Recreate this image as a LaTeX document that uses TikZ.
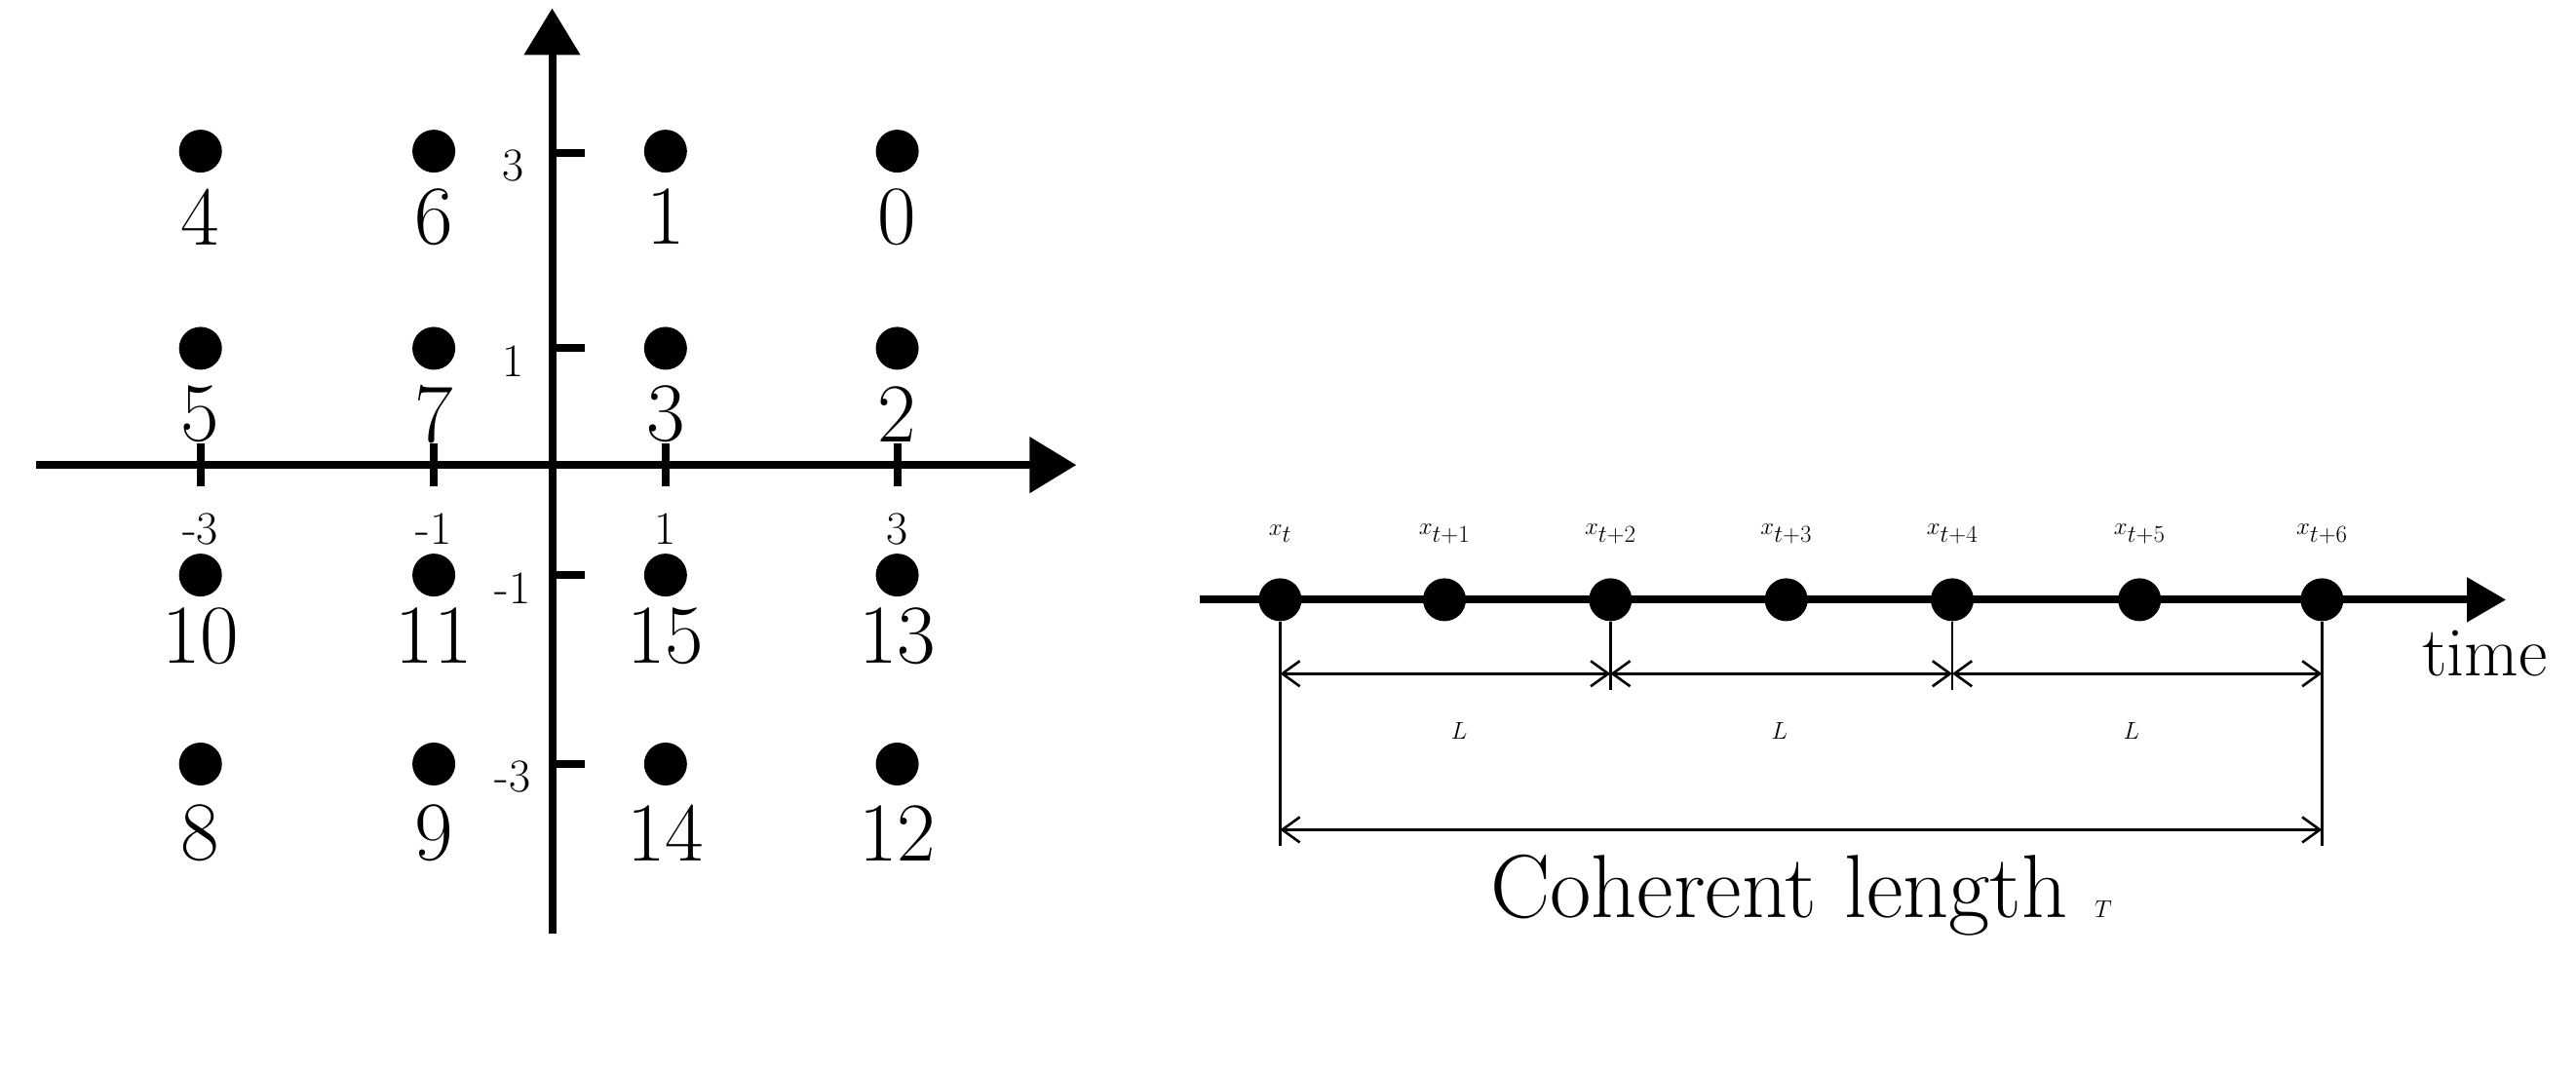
\documentclass[tikz,border=0pt]{standalone}
\usetikzlibrary{arrows.meta}
\begin{document}
\begin{tikzpicture}[x=1.686pt,y=-1.686pt,
 ax/.style={line width=8pt,-{Triangle[length=48pt,width=56pt]}},
 pt/.style={circle,fill=black,inner sep=0pt,minimum size=44pt},
 num/.style={font=\fontsize{86}{86}\selectfont},
 tk/.style={font=\fontsize{48}{48}\selectfont},
 lab/.style={font=\fontsize{82}{82}\selectfont},
 dim/.style={line width=2.6pt,{Straight Barb[length=18pt,width=26pt]}-{Straight Barb[length=18pt,width=26pt]}},
 vl/.style={line width=2.6pt}]
\useasboundingbox (0,0) rectangle (1567.6,651.8);
% left panel
\coordinate (xa) at (22,283); \coordinate (xb) at (655,283);
\coordinate (ya) at (336,568); \coordinate (yb) at (336,5);
\draw[ax] (xa) -- (xb);
\draw[ax] (ya) -- (yb);
\foreach \x/\l in {122/-3,264/-1,405/1,546/3}{
 \draw[line width=8pt] (\x,270) -- (\x,296);
 \node[tk] (xt\x) at (\x,322) {\l};}
\foreach \y/\l in {93/3,212/1,350/-1,465/-3}{
 \draw[line width=8pt] (336,\y) -- (356,\y);
 \node[tk] (yt\y) at (312,\y+8) {\l};}
\foreach \y/\ly/\a/\b/\c/\d in {92/132/4/6/1/0,212/252/5/7/3/2,350/387/10/11/15/13,465/507/8/9/14/12}{
 \node[pt] (p\a) at (122,\y) {}; \node[num] (n\a) at (122,\ly) {\a};
 \node[pt] (p\b) at (264,\y) {}; \node[num] (n\b) at (264,\ly) {\b};
 \node[pt] (p\c) at (405,\y) {}; \node[num] (n\c) at (405,\ly) {\c};
 \node[pt] (p\d) at (546,\y) {}; \node[num] (n\d) at (546,\ly) {\d};}
\node[font=\fontsize{100}{100}\selectfont] (la) at (280,1045) {(\textbf{a})};
\path (0,0) -- (0,0);
\node[font=\fontsize{100}{100}\selectfont] (la2) at (280,602) {};
% right panel
\coordinate (ta) at (730,365); \coordinate (tb) at (1525,365);
\draw[line width=8pt,-{Triangle[length=40pt,width=44pt]}] (ta) -- (tb);
\foreach \x/\s [count=\i] in {779/t,879/t+1,980/t+2,1087/t+3,1188/t+4,1302/t+5,1413/t+6}{
 \node[pt] (d\i) at (\x,365) {};
 \node[lab] (dl\i) at (\x,325) {$x_{\s}$};}
\node[font=\fontsize{72}{72}\selectfont] (time) at (1512,398) {time};
\coordinate (b1) at (779,515); \coordinate (b3) at (980,420);
\coordinate (b5) at (1188,420); \coordinate (b7) at (1413,515);
\draw[vl] (d1) -- (b1); \draw[vl] (d3) -- (b3); \draw[vl] (d5) -- (b5); \draw[vl] (d7) -- (b7);
\coordinate (a1) at (779,410); \coordinate (a3) at (980,410);
\coordinate (a5) at (1188,410); \coordinate (a7) at (1413,410);
\draw[dim] (a1) -- (a3); \draw[dim] (a3) -- (a5); \draw[dim] (a5) -- (a7);
\foreach \x/\n in {888/1,1083/2,1297/3} \node[lab] (L\n) at (\x,445) {$L$};
\coordinate (c1) at (779,505); \coordinate (c7) at (1413,505);
\draw[dim] (c1) -- (c7);
\node[font=\fontsize{92}{92}\selectfont] (coh) at (1096,545) {Coherent length $T$};
\end{tikzpicture}
\end{document}
